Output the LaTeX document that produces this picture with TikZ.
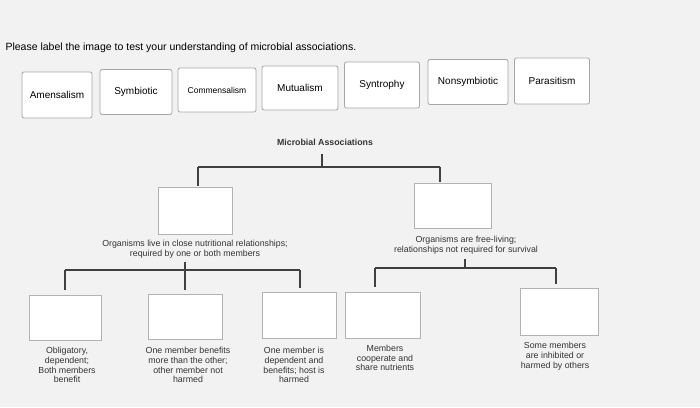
\documentclass[tikz,border=0pt]{standalone}
\usepackage{fontspec}
\setmainfont{Liberation Sans}
\begin{document}
\begin{tikzpicture}[x=1pt,y=-1pt,
 lab/.style={draw=gray!70,rounded corners=2pt,fill=white,font=\fontsize{10}{11}\selectfont,inner sep=0pt,line width=0.8pt},
 slot/.style={draw=gray!60,fill=white,inner sep=0pt,line width=0.8pt},
 txt/.style={font=\fontsize{8.8}{9.8}\selectfont,align=center,text=black!80},
 ln/.style={draw=black!75,line width=1.1pt}]
\fill[black!5] (0,0) rectangle (700,407);
\useasboundingbox (0,0) rectangle (700,407);
\node[anchor=west,font=\fontsize{10.5}{12}\selectfont] (title) at (2,48) {Please label the image to test your understanding of microbial associations.};
\node[lab,minimum width=70pt,minimum height=46pt] (b1) at (57,95) {Amensalism};
\node[lab,minimum width=72pt,minimum height=45pt] (b2) at (136,92) {Symbiotic};
\node[lab,minimum width=78pt,minimum height=44pt,font=\fontsize{8.5}{10}\selectfont] (b3) at (217,90) {Commensalism};
\node[lab,minimum width=76pt,minimum height=44pt] (b4) at (300,88) {Mutualism};
\node[lab,minimum width=75pt,minimum height=46pt] (b5) at (382,85) {Syntrophy};
\node[lab,minimum width=80pt,minimum height=45pt] (b6) at (468,82) {Nonsymbiotic};
\node[lab,minimum width=75pt,minimum height=46pt,anchor=center] (b7) at (552,81) {Parasitism};
\node[txt,font=\fontsize{8.8}{9.8}\selectfont\bfseries] (root) at (325,142) {Microbial Associations};
\coordinate (r1) at (322,154);
\coordinate (r2) at (322,167);
\draw[ln] (r1) -- (r2);
\coordinate (hl) at (198,167); \coordinate (hr) at (440,167);
\draw[ln] (hl) -- (hr);
\coordinate (dl) at (198,186); \coordinate (dr) at (440,182);
\draw[ln] (hl) -- (dl); \draw[ln] (hr) -- (dr);
\node[slot,minimum width=74pt,minimum height=47pt] (s1) at (195,211) {};
\node[slot,minimum width=77pt,minimum height=45pt] (s2) at (453,206) {};
\node[txt] (t1) at (195,249) {Organisms live in close nutritional relationships;\\required by one or both members};
\node[txt] (t2) at (466,245) {Organisms are free-living;\\relationships not required for survival};
% left branch
\coordinate (l0) at (185,262); \coordinate (l1) at (185,270);
\draw[ln] (l0) -- (l1);
\coordinate (la) at (65,270); \coordinate (lb) at (300,270);
\draw[ln] (la) -- (lb);
\coordinate (la2) at (65,290); \coordinate (lm2) at (185,290); \coordinate (lb2) at (300,288);
\draw[ln] (la) -- (la2); \draw[ln] (l1) -- (lm2); \draw[ln] (lb) -- (lb2);
% right branch
\coordinate (q0) at (465,259); \coordinate (q1) at (465,268);
\draw[ln] (q0) -- (q1);
\coordinate (qa) at (375,268); \coordinate (qb) at (556,268);
\draw[ln] (qa) -- (qb);
\coordinate (qa2) at (375,287); \coordinate (qb2) at (556,284);
\draw[ln] (qa) -- (qa2); \draw[ln] (qb) -- (qb2);
% bottom slots
\node[slot,minimum width=72pt,minimum height=45pt] (c1) at (65,318) {};
\node[slot,minimum width=74pt,minimum height=45pt] (c2) at (185,317) {};
\node[slot,minimum width=74pt,minimum height=46pt] (c3) at (299,315) {};
\node[slot,minimum width=75pt,minimum height=46pt] (c4) at (383,315) {};
\node[slot,minimum width=78pt,minimum height=47pt] (c5) at (559,312) {};
\node[txt] (d1) at (67,365) {Obligatory,\\dependent;\\Both members\\benefit};
\node[txt] (d2) at (188,365) {One member benefits\\more than the other;\\other member not\\harmed};
\node[txt] (d3) at (294,365) {One member is\\dependent and\\benefits; host is\\harmed};
\node[txt] (d4) at (385,358) {Members\\cooperate and\\share nutrients};
\node[txt] (d5) at (555,356) {Some members\\are inhibited or\\harmed by others};
\end{tikzpicture}
\end{document}
